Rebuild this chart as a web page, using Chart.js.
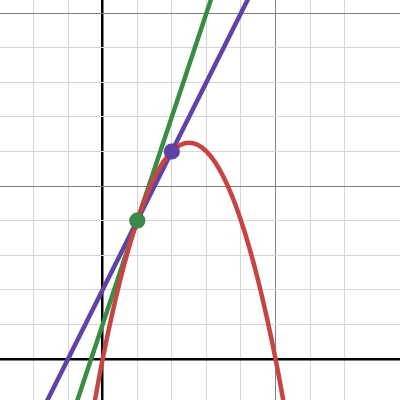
<!DOCTYPE html>
<html><head><meta charset="utf-8">
<script src="https://cdn.jsdelivr.net/npm/chart.js@4/dist/chart.umd.min.js"></script>
<style>html,body{margin:0;padding:0;background:#fff;overflow:hidden}#o{width:400px;height:400px;overflow:hidden;position:relative}#w{position:absolute;left:-10px;top:-10px;width:420px;height:420px}</style>
</head><body><div id="o"><div id="w"><canvas id="c"></canvas></div></div>
<script>
const parabolaX = [-0.5,0,0.5,1,1.5,2,2.5,3,3.5,4,4.5,5,5.5];
const parabolaY = [-2.75,0,2.25,4,5.25,6,6.25,6,5.25,4,2.25,0,-2.75];
const tangentX = [-2,5];
const tangentY = [-5,16];
const secantX = [-3,6];
const secantY = [-4,14];
const pointsX = [1,2];
const pointsY = [4,6];
const zip=(a,b)=>a.map((v,i)=>({x:v,y:b[i]}));
function gc(){return c=>{const v=c.tick.value;if(Math.abs(v-Math.round(v))>1e-6)return 'rgba(0,0,0,0)';if(Math.round(v)===0)return '#000';if(Math.round(v)%5===0)return '#808080';return '#d6d6d6';};}
function gw(c){const v=c.tick.value;if(Math.abs(v-Math.round(v))>1e-6)return 0;if(Math.round(v)===0)return 2.5;return 1;}
new Chart(document.getElementById('c'),{type:'scatter',data:{datasets:[
{data:zip(pointsX.slice(0,1),pointsY.slice(0,1)),backgroundColor:'#388c46',pointRadius:8,showLine:false},
{data:zip(pointsX.slice(1),pointsY.slice(1)),backgroundColor:'#6042a6',pointRadius:8,showLine:false},
{data:zip(parabolaX,parabolaY),showLine:true,borderColor:'#c74440',borderWidth:4.5,pointRadius:0,cubicInterpolationMode:'monotone'},
{data:zip(tangentX,tangentY),showLine:true,borderColor:'#388c46',borderWidth:4.5,pointRadius:0},
{data:zip(secantX,secantY),showLine:true,borderColor:'#6042a6',borderWidth:4.5,pointRadius:0}
]},options:{responsive:true,maintainAspectRatio:false,animation:false,layout:{padding:0},
plugins:{legend:{display:false},tooltip:{enabled:false}},
scales:{x:{min:-3,max:8.63,ticks:{display:false,stepSize:1},border:{display:false},grid:{color:gc(),lineWidth:gw,drawTicks:false}},
y:{min:-1.22,max:10.41,ticks:{display:false,stepSize:1},border:{display:false},grid:{color:gc(),lineWidth:gw,drawTicks:false}}}}});
</script></body></html>
